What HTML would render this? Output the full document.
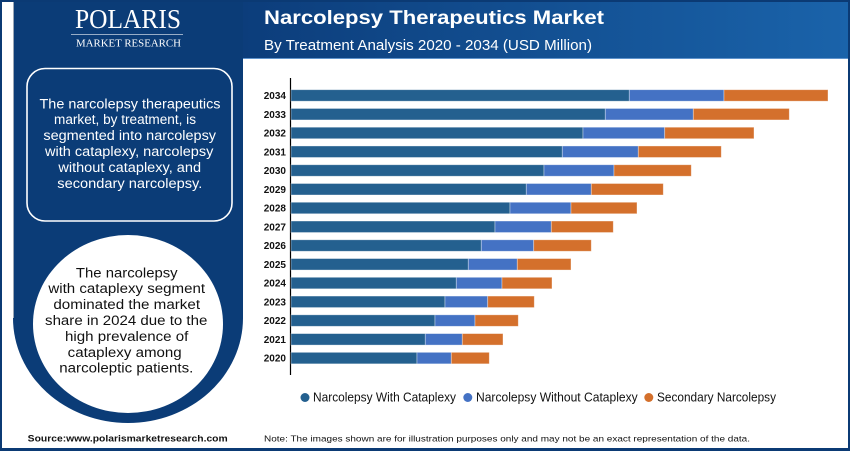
<!DOCTYPE html>
<html>
<head>
<meta charset="utf-8">
<style>
  html,body{margin:0;padding:0;background:#fff;}
  svg{display:block;}
  text{font-family:"Liberation Sans",Arial,sans-serif;}
  text.serif{font-family:"Liberation Serif","DejaVu Serif",serif;}
</style>
</head>
<body>
<svg width="850" height="451" viewBox="0 0 850 451" xmlns="http://www.w3.org/2000/svg">
  <defs>
    <linearGradient id="hdr" x1="0" y1="0" x2="1" y2="0">
      <stop offset="0" stop-color="#0c3d7b"/>
      <stop offset="1" stop-color="#1a63aa"/>
    </linearGradient>
  </defs>

  <!-- outer border -->
  <rect x="0" y="0" width="850" height="451" fill="#0b3a74"/>
  <rect x="2" y="2" width="846" height="446" fill="#ffffff"/>

  <!-- left shield panel -->
  <path d="M13 2 H243 V318 A115 105 0 0 1 13 318 Z" fill="#0b3c77"/>
  <line x1="13.5" y1="2" x2="13.5" y2="318" stroke="#9aa6b6" stroke-width="1"/>

  <!-- logo -->
  <text class="serif" x="75" y="28" font-size="27" fill="#ffffff" textLength="106" lengthAdjust="spacingAndGlyphs" style="font-family:'Liberation Serif',serif">POLARIS</text>
  <line x1="71" y1="34.5" x2="183" y2="34.5" stroke="#c9d3e2" stroke-width="0.8"/>
  <text class="serif" x="76" y="46.5" font-size="10" fill="#ffffff" textLength="105" lengthAdjust="spacingAndGlyphs" style="font-family:'Liberation Serif',serif">MARKET RESEARCH</text>

  <!-- rounded info box -->
  <rect x="27" y="68.5" width="205" height="152.5" rx="18" ry="18" fill="#0b3c77" stroke="#ffffff" stroke-width="1.6"/>
  <g font-size="13.5" fill="#ffffff" text-anchor="middle">
    <text x="130" y="108.3" textLength="181" lengthAdjust="spacingAndGlyphs">The narcolepsy therapeutics</text>
    <text x="125" y="124.2" textLength="142" lengthAdjust="spacingAndGlyphs">market, by treatment, is</text>
    <text x="129.7" y="140.1" textLength="172.7" lengthAdjust="spacingAndGlyphs">segmented into narcolepsy</text>
    <text x="129.2" y="156" textLength="168.3" lengthAdjust="spacingAndGlyphs">with cataplexy, narcolepsy</text>
    <text x="129.7" y="171.9" textLength="142.7" lengthAdjust="spacingAndGlyphs">without cataplexy, and</text>
    <text x="129.8" y="187.8" textLength="145" lengthAdjust="spacingAndGlyphs">secondary narcolepsy.</text>
  </g>

  <!-- white circle -->
  <ellipse cx="128" cy="324" rx="95" ry="89" fill="#ffffff"/>
  <g font-size="13.5" fill="#111111" text-anchor="middle">
    <text x="126.8" y="277.3" textLength="101.7" lengthAdjust="spacingAndGlyphs">The narcolepsy</text>
    <text x="126.7" y="293.2" textLength="156.7" lengthAdjust="spacingAndGlyphs">with cataplexy segment</text>
    <text x="126.7" y="309.1" textLength="146.7" lengthAdjust="spacingAndGlyphs">dominated the market</text>
    <text x="126.2" y="325" textLength="162.3" lengthAdjust="spacingAndGlyphs">share in 2024 due to the</text>
    <text x="126.7" y="340.9" textLength="123.3" lengthAdjust="spacingAndGlyphs">high prevalence of</text>
    <text x="124.7" y="356.8" textLength="114" lengthAdjust="spacingAndGlyphs">cataplexy among</text>
    <text x="126.3" y="372.7" textLength="134" lengthAdjust="spacingAndGlyphs">narcoleptic patients.</text>
  </g>

  <!-- source -->
  <text x="27.7" y="441.5" font-size="9.5" font-weight="bold" fill="#111111" textLength="200" lengthAdjust="spacingAndGlyphs">Source:www.polarismarketresearch.com</text>

  <!-- header -->
  <rect x="243" y="2" width="605" height="57" fill="url(#hdr)"/>
  <line x1="243" y1="58.5" x2="848" y2="58.5" stroke="#5f93cc" stroke-width="1"/>
  <text x="264" y="24" font-size="19.5" font-weight="bold" fill="#ffffff" textLength="340" lengthAdjust="spacingAndGlyphs">Narcolepsy Therapeutics Market</text>
  <text x="264" y="50" font-size="14.5" fill="#ffffff" textLength="328" lengthAdjust="spacingAndGlyphs">By Treatment Analysis 2020 - 2034 (USD Million)</text>

  <!-- axis -->
  <line x1="290.5" y1="78" x2="290.5" y2="375" stroke="#000000" stroke-width="1.2"/>

  <!-- bars -->
  <g stroke="#ffffff" stroke-opacity="0.45" stroke-width="0.8">
    <rect x="291" y="89.7" width="338.3" height="11.5" fill="#24608f"/>
    <rect x="629.3" y="89.7" width="94.7" height="11.5" fill="#4472c4"/>
    <rect x="724" y="89.7" width="104" height="11.5" fill="#d4702c"/>
    <rect x="291" y="108.46" width="314.3" height="11.5" fill="#24608f"/>
    <rect x="605.3" y="108.46" width="88" height="11.5" fill="#4472c4"/>
    <rect x="693.3" y="108.46" width="96" height="11.5" fill="#d4702c"/>
    <rect x="291" y="127.22" width="292" height="11.5" fill="#24608f"/>
    <rect x="583" y="127.22" width="81.7" height="11.5" fill="#4472c4"/>
    <rect x="664.7" y="127.22" width="89.3" height="11.5" fill="#d4702c"/>
    <rect x="291" y="145.98" width="271.3" height="11.5" fill="#24608f"/>
    <rect x="562.3" y="145.98" width="76" height="11.5" fill="#4472c4"/>
    <rect x="638.3" y="145.98" width="83" height="11.5" fill="#d4702c"/>
    <rect x="291" y="164.74" width="253" height="11.5" fill="#24608f"/>
    <rect x="544" y="164.74" width="70" height="11.5" fill="#4472c4"/>
    <rect x="614" y="164.74" width="77.3" height="11.5" fill="#d4702c"/>
    <rect x="291" y="183.5" width="235.3" height="11.5" fill="#24608f"/>
    <rect x="526.3" y="183.5" width="65" height="11.5" fill="#4472c4"/>
    <rect x="591.3" y="183.5" width="72" height="11.5" fill="#d4702c"/>
    <rect x="291" y="202.26" width="219" height="11.5" fill="#24608f"/>
    <rect x="510" y="202.26" width="61" height="11.5" fill="#4472c4"/>
    <rect x="571" y="202.26" width="66" height="11.5" fill="#d4702c"/>
    <rect x="291" y="221.02" width="204" height="11.5" fill="#24608f"/>
    <rect x="495" y="221.02" width="56.3" height="11.5" fill="#4472c4"/>
    <rect x="551.3" y="221.02" width="62" height="11.5" fill="#d4702c"/>
    <rect x="291" y="239.78" width="190.3" height="11.5" fill="#24608f"/>
    <rect x="481.3" y="239.78" width="52.4" height="11.5" fill="#4472c4"/>
    <rect x="533.7" y="239.78" width="57.6" height="11.5" fill="#d4702c"/>
    <rect x="291" y="258.54" width="177.3" height="11.5" fill="#24608f"/>
    <rect x="468.3" y="258.54" width="49" height="11.5" fill="#4472c4"/>
    <rect x="517.3" y="258.54" width="53.7" height="11.5" fill="#d4702c"/>
    <rect x="291" y="277.3" width="165.3" height="11.5" fill="#24608f"/>
    <rect x="456.3" y="277.3" width="45.7" height="11.5" fill="#4472c4"/>
    <rect x="502" y="277.3" width="50" height="11.5" fill="#d4702c"/>
    <rect x="291" y="296.06" width="154" height="11.5" fill="#24608f"/>
    <rect x="445" y="296.06" width="42.7" height="11.5" fill="#4472c4"/>
    <rect x="487.7" y="296.06" width="46.6" height="11.5" fill="#d4702c"/>
    <rect x="291" y="314.82" width="144" height="11.5" fill="#24608f"/>
    <rect x="435" y="314.82" width="40" height="11.5" fill="#4472c4"/>
    <rect x="475" y="314.82" width="43.3" height="11.5" fill="#d4702c"/>
    <rect x="291" y="333.58" width="134.3" height="11.5" fill="#24608f"/>
    <rect x="425.3" y="333.58" width="37" height="11.5" fill="#4472c4"/>
    <rect x="462.3" y="333.58" width="40.7" height="11.5" fill="#d4702c"/>
    <rect x="291" y="352.34" width="126" height="11.5" fill="#24608f"/>
    <rect x="417" y="352.34" width="34.3" height="11.5" fill="#4472c4"/>
    <rect x="451.3" y="352.34" width="38" height="11.5" fill="#d4702c"/>
  </g>

  <!-- year labels -->
  <g font-size="10" font-weight="bold" fill="#111111" text-anchor="end">
    <text x="286" y="99">2034</text>
    <text x="286" y="117.8">2033</text>
    <text x="286" y="136.5">2032</text>
    <text x="286" y="155.3">2031</text>
    <text x="286" y="174">2030</text>
    <text x="286" y="192.8">2029</text>
    <text x="286" y="211.6">2028</text>
    <text x="286" y="230.3">2027</text>
    <text x="286" y="249.1">2026</text>
    <text x="286" y="267.8">2025</text>
    <text x="286" y="286.6">2024</text>
    <text x="286" y="305.4">2023</text>
    <text x="286" y="324.1">2022</text>
    <text x="286" y="342.9">2021</text>
    <text x="286" y="361.6">2020</text>
  </g>

  <!-- legend -->
  <circle cx="305" cy="397.5" r="4.5" fill="#24608f"/>
  <text x="313" y="401.7" font-size="12.5" fill="#111111" textLength="143" lengthAdjust="spacingAndGlyphs">Narcolepsy With Cataplexy</text>
  <circle cx="467.8" cy="397.5" r="4.5" fill="#4472c4"/>
  <text x="476" y="401.7" font-size="12.5" fill="#111111" textLength="161.7" lengthAdjust="spacingAndGlyphs">Narcolepsy Without Cataplexy</text>
  <circle cx="648.8" cy="397.5" r="4.5" fill="#d4702c"/>
  <text x="657" y="401.7" font-size="12.5" fill="#111111" textLength="119" lengthAdjust="spacingAndGlyphs">Secondary Narcolepsy</text>

  <!-- note -->
  <text x="264" y="441.3" font-size="8.5" fill="#111111" textLength="486" lengthAdjust="spacingAndGlyphs">Note: The images shown are for illustration purposes only and may not be an exact representation of the data.</text>
</svg>
</body>
</html>
